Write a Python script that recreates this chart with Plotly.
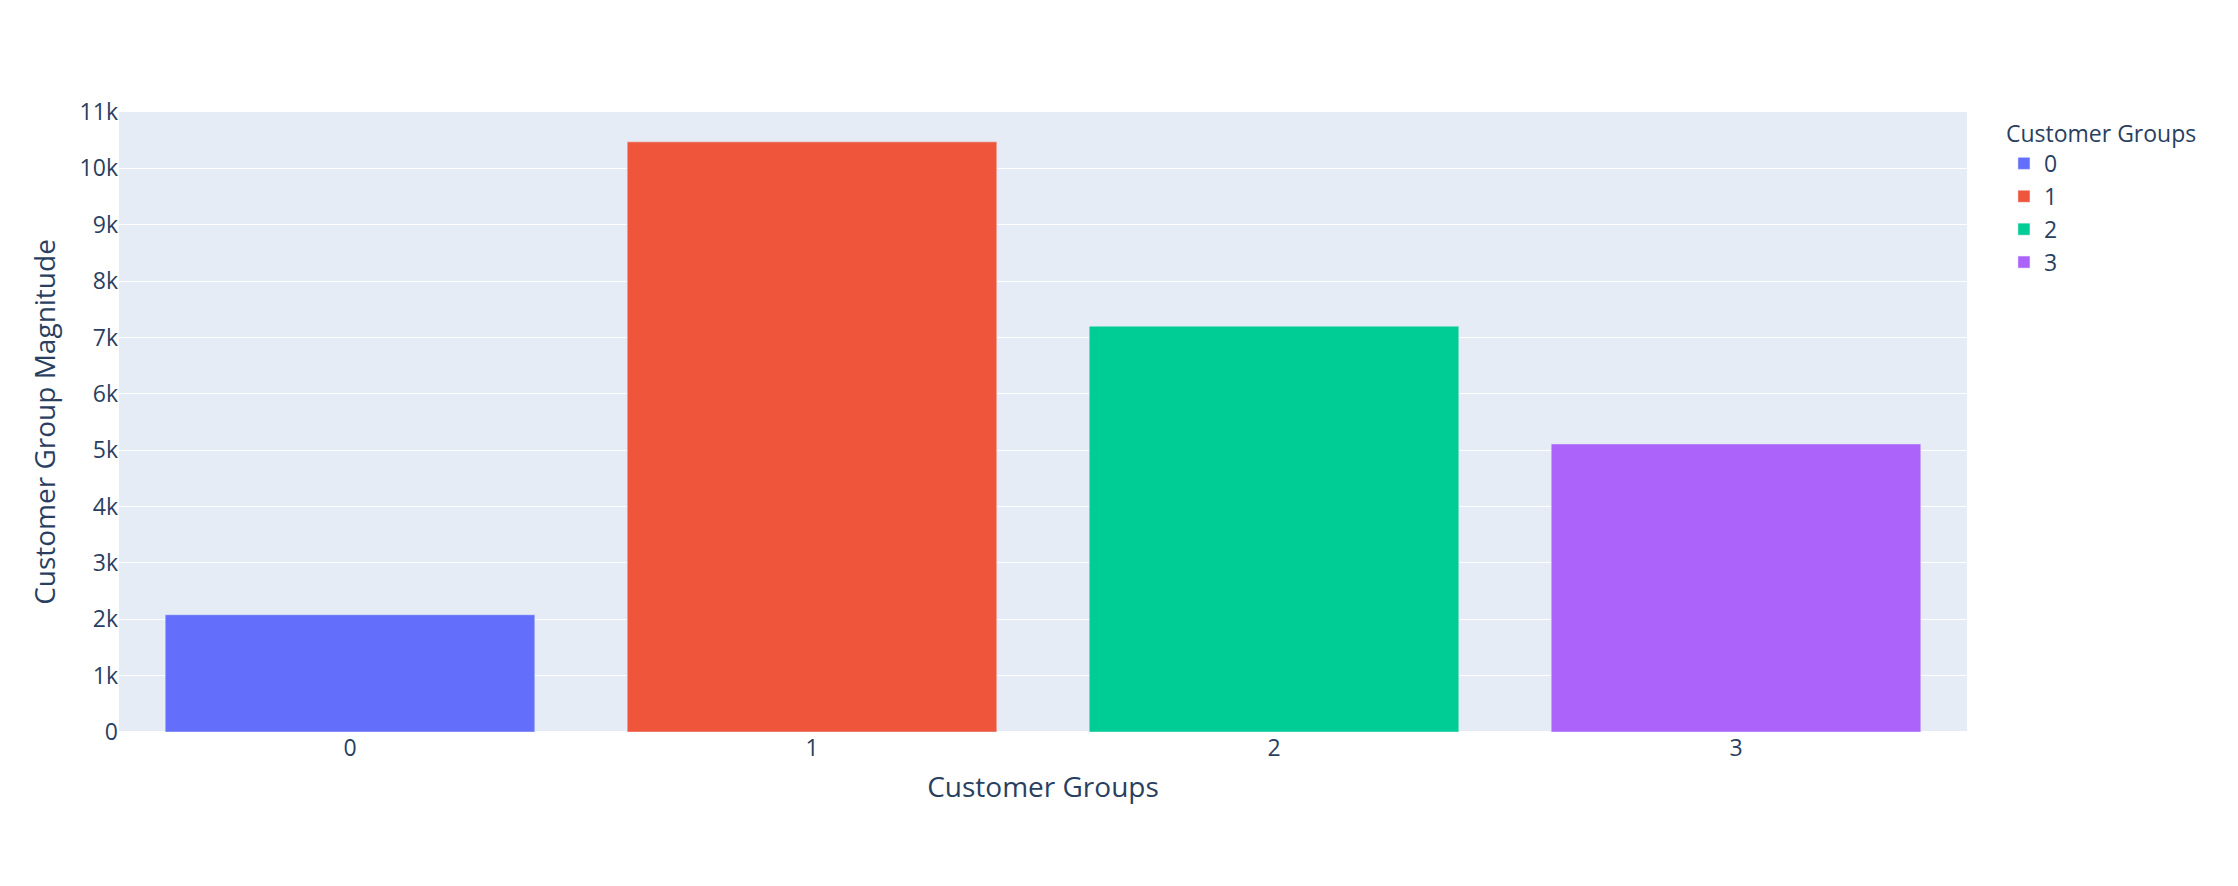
import plotly.graph_objects as go

groups = ["0", "1", "2", "3"]
counts = [2080, 10470, 7200, 5110]
colors = ["#636efa", "#EF553B", "#00cc96", "#ab63fa"]

fig = go.Figure()
for g, c, col in zip(groups, counts, colors):
    fig.add_trace(go.Bar(x=[g], y=[c], name=g, marker_color=col))

fig.update_layout(
    template="plotly",
    barmode="relative",
    font=dict(size=23),
    legend=dict(title=dict(text="Customer Groups", font=dict(size=23)), font=dict(size=23)),
    xaxis=dict(title=dict(text="Customer Groups", font=dict(size=28)), type="category",
               categoryorder="array", categoryarray=groups),
    yaxis=dict(title=dict(text="Customer Group Magnitude", font=dict(size=28)),
               range=[0, 11000], dtick=1000),
    margin=dict(l=111, r=263, t=104, b=146),
)
fig.write_html("out.html")
